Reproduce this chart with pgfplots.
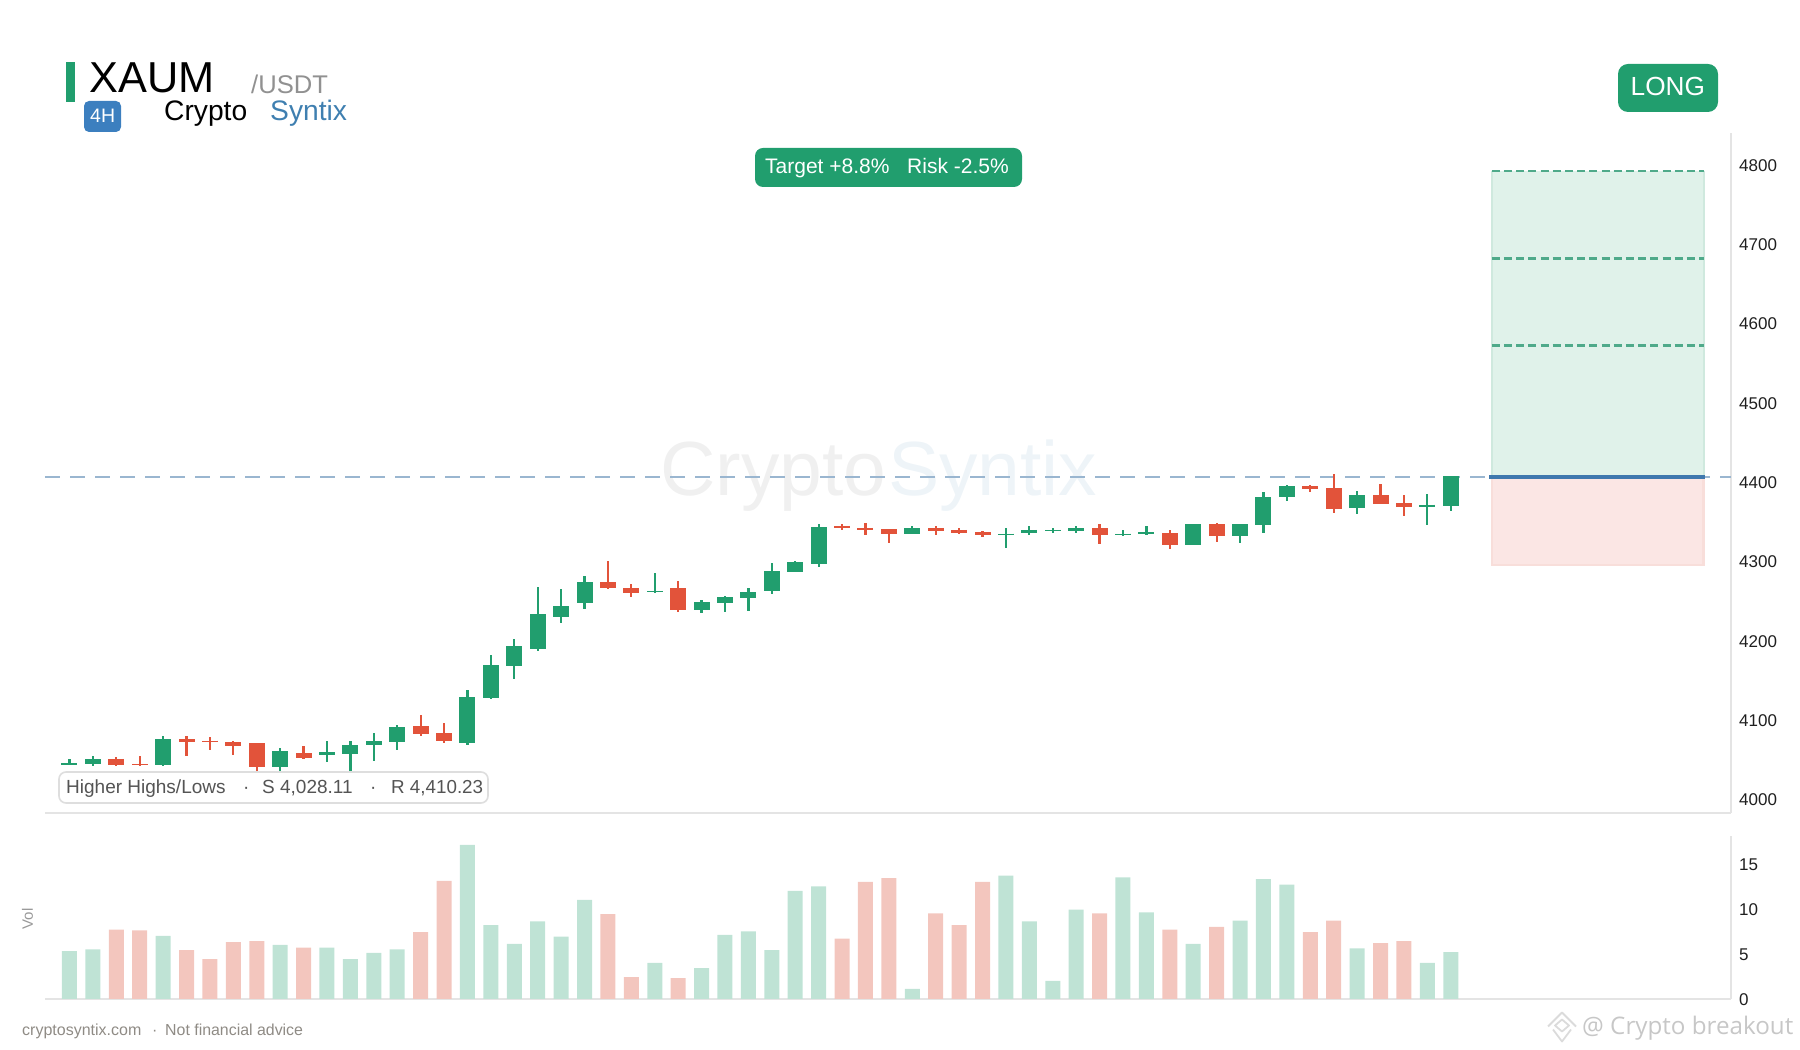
\documentclass[border=0pt]{standalone}
\usepackage{fontspec}
\setmainfont{Liberation Sans}
\newfontfamily\wmfont{Open Sans}
\usepackage{pgfplots}
\usepackage{pgfplotstable}
\pgfplotsset{compat=1.18}
\usetikzlibrary{calc}
\definecolor{upc}{HTML}{219E6E}
\definecolor{dnc}{HTML}{E2533A}
\definecolor{volup}{HTML}{BFE3D5}
\definecolor{voldn}{HTML}{F3C6BE}
\definecolor{zoneg}{HTML}{E0F2EA}
\definecolor{zonegb}{HTML}{CFE9DE}
\definecolor{zoner}{HTML}{FBE6E4}
\definecolor{zonerb}{HTML}{F8DEDA}
\definecolor{entryc}{HTML}{3F78AE}
\definecolor{resc}{HTML}{9AB6D0}
\definecolor{tgtc}{HTML}{4FAA8A}
\definecolor{axc}{HTML}{E4E4E4}
\definecolor{badgeb}{HTML}{3C7FBF}
\definecolor{syn}{HTML}{3F7FB0}
\definecolor{foot}{HTML}{8F8B85}
\newcommand{\fs}[1]{\fontsize{#1}{#1}\selectfont}
\newcommand{\Txt}[4][black]{\node[anchor=base west,inner sep=0pt,text=#1] at ({#2pt},{1050pt-#3pt}) {#4};}
% i  top  bot  hi  lo
\pgfplotstableread{
i top bot hi lo
0 4046.0 4043.9 4051.9 4043.5
1 4051.1 4045.2 4054.9 4042.3
4 4076.3 4043.9 4080.1 4042.7
9 4061.2 4041.4 4065.8 4036.4
11 4059.9 4056.6 4073.8 4047.7
12 4068.8 4057.8 4073.8 4036.4
13 4073.8 4068.8 4083.9 4048.6
14 4091.5 4073.0 4094.8 4062.5
17 4129.3 4071.7 4138.2 4069.2
18 4169.7 4128.5 4182.3 4127.0
19 4193.7 4168.9 4202.5 4152.5
20 4234.1 4190.4 4268.6 4187.8
21 4244.2 4230.7 4265.6 4223.2
22 4274.5 4248.4 4282.0 4240.4
25 4263.5 4261.9 4285.8 4261.0
27 4249.2 4239.6 4251.8 4235.8
28 4255.5 4248.4 4256.8 4237.0
29 4261.9 4254.7 4266.9 4238.3
30 4288.3 4263.5 4298.4 4259.7
31 4299.7 4287.5 4301.0 4287.1
32 4343.9 4297.6 4348.5 4293.8
36 4342.6 4335.5 4345.6 4335.0
40 4335.9 4334.2 4342.6 4317.8
41 4340.5 4336.3 4345.1 4334.2
42 4340.5 4339.2 4343.4 4336.7
43 4342.6 4338.8 4345.1 4336.7
45 4335.9 4334.6 4340.1 4332.5
46 4337.5 4335.4 4345.1 4333.7
48 4347.6 4321.1 4348.5 4321.0
50 4347.6 4332.5 4348.5 4324.1
51 4381.7 4346.8 4388.0 4336.7
52 4395.6 4382.1 4396.8 4376.6
55 4384.2 4368.2 4389.3 4360.7
58 4372.4 4369.5 4385.5 4346.4
59 4408.2 4370.8 4409.0 4364.0
}\upT
\pgfplotstableread{
i top bot hi lo
2 4051.9 4043.9 4053.6 4042.3
3 4044.8 4043.9 4054.9 4043.1
5 4076.8 4072.6 4080.1 4054.9
6 4074.7 4073.0 4079.7 4062.5
7 4072.6 4067.5 4074.7 4056.1
8 4071.3 4041.4 4072.1 4036.4
10 4058.7 4052.8 4067.5 4051.5
15 4092.8 4083.1 4106.6 4080.6
16 4083.9 4073.8 4096.5 4071.7
23 4274.5 4267.3 4301.4 4266.5
24 4266.9 4261.0 4271.9 4255.5
26 4266.9 4239.6 4275.7 4237.0
33 4345.6 4343.0 4347.7 4340.1
34 4343.0 4340.1 4349.3 4334.2
35 4341.3 4335.5 4342.2 4324.1
37 4343.0 4338.8 4345.1 4333.7
38 4340.5 4336.3 4343.0 4335.0
39 4337.5 4333.7 4339.6 4332.1
44 4342.6 4333.7 4348.0 4322.4
47 4336.3 4321.1 4340.1 4316.1
49 4347.6 4332.5 4349.3 4325.3
53 4395.6 4391.8 4397.7 4388.4
54 4393.1 4366.6 4411.6 4361.9
56 4384.2 4373.3 4398.1 4372.9
57 4374.1 4369.1 4384.2 4357.7
}\dnT
\pgfplotstableread{
i v
0 5.3
1 5.5
4 7.0
9 6.0
11 5.7
12 4.4
13 5.1
14 5.5
17 17.1
18 8.2
19 6.1
20 8.6
21 6.9
22 11.0
25 4.0
27 3.4
28 7.1
29 7.5
30 5.4
31 12.0
32 12.5
36 1.1
40 13.7
41 8.6
42 2.0
43 9.9
45 13.5
46 9.6
48 6.1
50 8.7
51 13.3
52 12.7
55 5.6
58 4.0
59 5.2
}\volUp
\pgfplotstableread{
i v
2 7.7
3 7.6
5 5.4
6 4.4
7 6.3
8 6.4
10 5.7
15 7.4
16 13.1
23 9.4
24 2.4
26 2.3
33 6.7
34 13.0
35 13.4
37 9.5
38 8.2
39 13.0
44 9.5
47 7.7
49 8.0
53 7.4
54 8.7
56 6.2
57 6.4
}\volDn
\newcommand{\candles}[2]{%
  \addplot[draw=none,mark=none,forget plot,
    error bars/.cd,y dir=both,y explicit,error mark=none,
    error bar style={line width=2.2pt,line cap=butt,color=#2}]
    table[x=i,y=top,y error plus expr=\thisrow{hi}-\thisrow{top},y error minus expr=\thisrow{top}-\thisrow{lo}]{#1};
  \addplot[draw=none,mark=none,forget plot,
    error bars/.cd,y dir=minus,y explicit,error mark=none,
    error bar style={line width=16pt,line cap=butt,color=#2}]
    table[x=i,y=top,y error minus expr=\thisrow{top}-\thisrow{bot}]{#1};
}
\pgfplotsset{
  common/.style={
    scale only axis,width=1686pt,
    xmin=-1.045,xmax=70.97,
    axis x line*=bottom,axis y line*=right,
    axis line style={draw=axc,line width=2pt,-},
    xtick=\empty,
    major tick length=0pt,
    tick style={draw=none},
    yticklabel style={inner sep=0pt,xshift=8pt,text=black!88,font=\fs{17}},
    /pgf/number format/assume math mode=true,
    /pgf/number format/1000 sep={},
  }
}
\begin{document}
\begin{tikzpicture}[x=1pt,y=1pt]
\useasboundingbox (0,0) rectangle (1800pt,1050pt);
% watermark
\Txt[black!6]{660}{496}{\fs{76.8}Crypto}
\Txt[syn!9]{888}{496}{\fs{76.8}Syntix}
% main
\begin{axis}[common,at={(45pt,236.6pt)},anchor=south west,height=680.4pt,
  ymin=3983,ymax=4841,ytick={4000,4100,...,4800}]
\addplot[draw=zoneg,fill=zoneg,forget plot] coordinates {(60.75,4296)(69.8,4296)(69.8,4793)(60.75,4793)} -- cycle;
\addplot[draw=zonegb,line width=2pt,forget plot] coordinates {(60.75,4408)(60.75,4793)};
\addplot[draw=zonegb,line width=2pt,forget plot] coordinates {(69.8,4408)(69.8,4793)};
\addplot[draw=none,fill=zoner,forget plot] coordinates {(60.75,4296)(69.8,4296)(69.8,4408)(60.75,4408)} -- cycle;
\addplot[draw=zonerb,line width=2.4pt,forget plot] coordinates {(60.75,4408)(60.75,4296)(69.8,4296)(69.8,4408)};
\addplot[resc,line width=2.4pt,dash pattern=on 15pt off 10pt,forget plot] coordinates {(-1.045,4407.5)(70.97,4407.5)};
\candles{\upT}{upc}
\candles{\dnT}{dnc}
\addplot[tgtc,line width=2.8pt,dash pattern=on 8pt off 4.2pt,forget plot] coordinates {(60.75,4793)(69.8,4793)};
\addplot[tgtc,line width=2.8pt,dash pattern=on 8pt off 4.2pt,forget plot] coordinates {(60.75,4683)(69.8,4683)};
\addplot[tgtc,line width=2.8pt,dash pattern=on 8pt off 4.2pt,forget plot] coordinates {(60.75,4573.5)(69.8,4573.5)};
\addplot[entryc,line width=3.8pt,forget plot] coordinates {(60.65,4407.5)(69.85,4407.5)};
\end{axis}
% volume
\begin{axis}[common,at={(45pt,51.2pt)},anchor=south west,height=162.7pt,
  ymin=0,ymax=18.08,ytick={0,5,10,15},
  yticklabel style={yshift=-1pt}]
\addplot[ybar,bar width=15pt,fill=volup,draw=none,forget plot] table[x=i,y=v]{\volUp};
\addplot[ybar,bar width=15pt,fill=voldn,draw=none,forget plot] table[x=i,y=v]{\volDn};
\end{axis}
% header
\fill[upc] (66pt,{1050pt-102pt}) rectangle (75pt,{1050pt-62pt});
\Txt{89.5}{92.5}{\fs{43.3}XAUM}
\Txt[black!43]{251}{93.5}{\fs{25.6}/USDT}
\fill[badgeb,rounded corners=5pt] (84pt,{1050pt-132pt}) rectangle (121pt,{1050pt-101pt});
\Txt[white]{90}{122.5}{\fs{19.5}4H}
\Txt{164}{121}{\fs{28.2}Crypto}
\Txt[syn]{270}{121}{\fs{28.2}Syntix}
\fill[upc,rounded corners=10pt] (1618pt,{1050pt-112pt}) rectangle (1718pt,{1050pt-64pt});
\Txt[white]{1630.5}{96}{\fs{26.2}LONG}
\fill[upc,rounded corners=8pt] (755pt,{1050pt-187pt}) rectangle (1022pt,{1050pt-148pt});
\Txt[white]{765}{174}{\fs{21}Target +8.8\%}
\Txt[white]{907}{174}{\fs{21}Risk -2.5\%}
% info box
\filldraw[fill=white,draw=black!13,line width=1.6pt,rounded corners=7pt] (59pt,{1050pt-803pt}) rectangle (488pt,{1050pt-772pt});
\Txt[black!67]{66}{793.5}{\fs{19}Higher Highs/Lows}
\Txt[black!67]{243}{793.5}{\fs{19}·}
\Txt[black!67]{262}{793.5}{\fs{19}S 4,028.11}
\Txt[black!67]{370}{793.5}{\fs{19}·}
\Txt[black!67]{391}{793.5}{\fs{18.8}R 4,410.23}
% vol label
\node[rotate=90,inner sep=0pt,text=black!40] at (27.5pt,{1050pt-919pt}) {\fs{15}Vol};
% footer
\Txt[foot]{22}{1035.5}{\fs{16}cryptosyntix.com}
\Txt[foot]{152}{1035.5}{\fs{16}·}
\Txt[foot]{165}{1035.5}{\fs{15.9}Not financial advice}
% corner watermark
\begin{scope}[draw=black!14,line width=1.8pt,line join=round,yshift=-1.5pt]
\draw (1548pt,{1050pt-1025pt}) -- (1553pt,{1050pt-1020pt}) -- (1562pt,{1050pt-1011pt}) -- (1571pt,{1050pt-1020pt}) -- (1576pt,{1050pt-1025pt});
\draw (1553pt,{1050pt-1028pt}) -- (1562pt,{1050pt-1040pt}) -- (1571pt,{1050pt-1028pt});
\draw (1555pt,{1050pt-1024pt}) -- (1562pt,{1050pt-1018pt}) -- (1569pt,{1050pt-1024pt}) -- (1562pt,{1050pt-1030pt}) -- cycle;
\end{scope}
\node[anchor=base west,inner sep=0pt,text=black!22] at (1582pt,{1050pt-1035pt}) {\wmfont\fs{24.2}@ Crypto breakout};
\end{tikzpicture}
\end{document}
